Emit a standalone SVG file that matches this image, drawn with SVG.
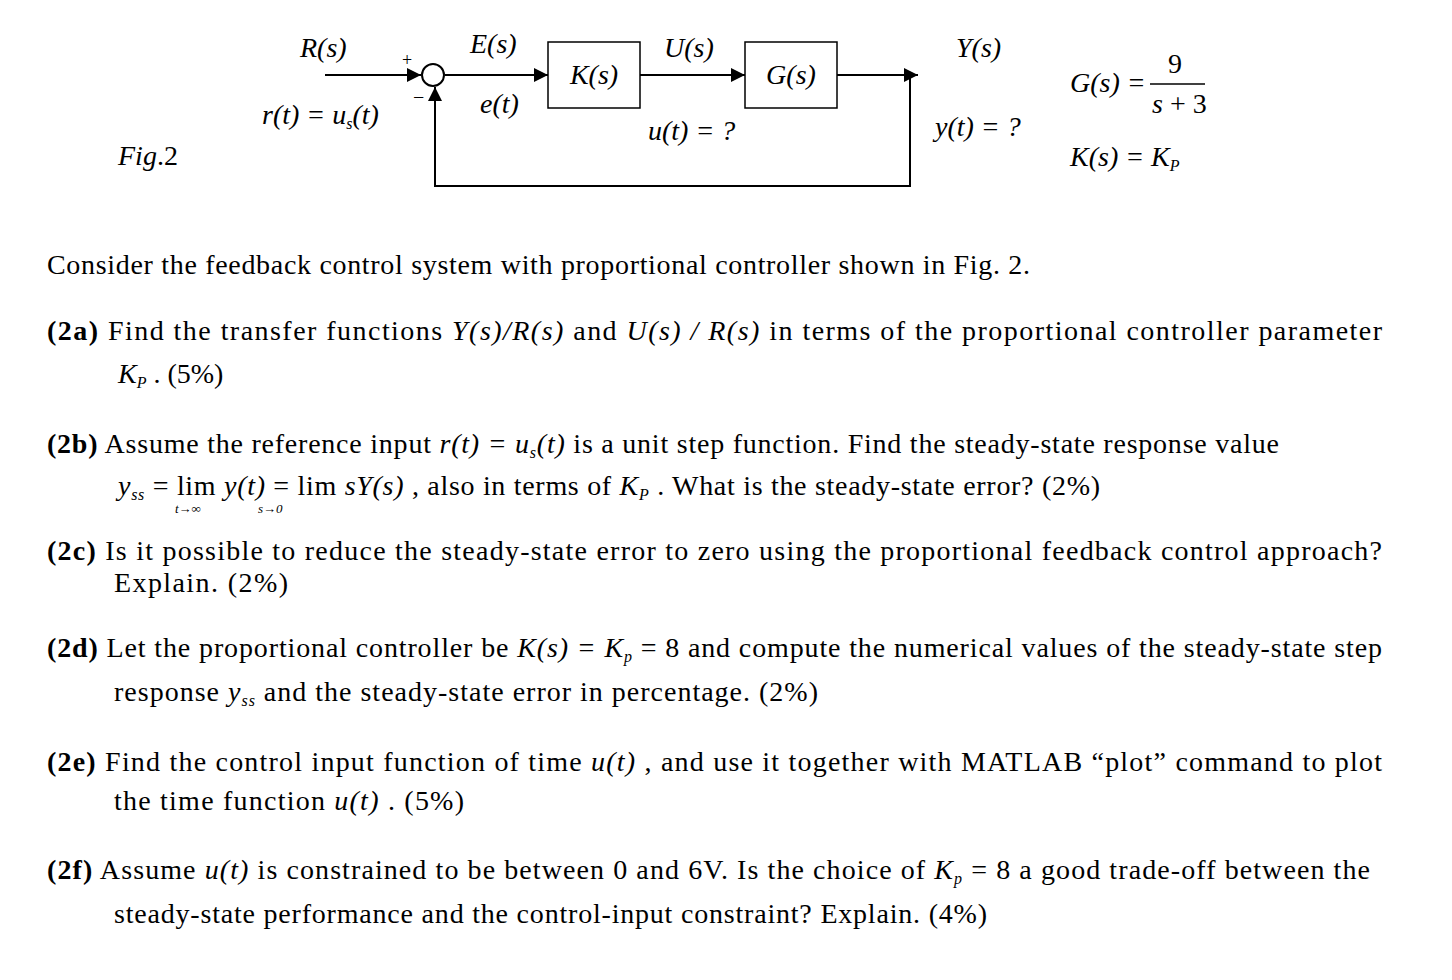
<svg xmlns="http://www.w3.org/2000/svg" width="1452" height="980" viewBox="0 0 1452 980">
<style>
text{font-family:"Liberation Serif","Times New Roman",serif;fill:#000}
.m{font-style:italic;font-size:28px}
.b{font-size:28px}
.bb{font-weight:bold}
.ln{stroke:#000;stroke-width:2;fill:none}
.box{stroke:#000;stroke-width:1.5;fill:#fff}
</style>
<defs>
<marker id="ah" viewBox="0 0 10 10" markerWidth="16" markerHeight="14" refX="10" refY="5" orient="auto" markerUnits="userSpaceOnUse"><path d="M0,0 L10,5 L0,10 z"/></marker></defs>
<rect width="1452" height="980" fill="#fff"/>
<g id="connectors">
<line class="ln" x1="325" y1="75" x2="421" y2="75" marker-end="url(#ah)"/>
<line class="ln" x1="445" y1="75" x2="548" y2="75" marker-end="url(#ah)"/>
<line class="ln" x1="640" y1="75" x2="745" y2="75" marker-end="url(#ah)"/>
<line class="ln" x1="837" y1="75" x2="918" y2="75" marker-end="url(#ah)"/>
<polyline class="ln" points="910,75 910,186 435,186 435,87" marker-end="url(#ah)"/>
</g>
<g id="sum"><circle cx="433" cy="75" r="11" class="ln"/><text x="402" y="66" font-size="18">+</text><text x="413" y="104" font-size="20">−</text></g>
<g id="K"><rect class="box" x="548" y="42" width="92" height="66"/><text class="m" x="594" y="84" text-anchor="middle">K(s)</text></g>
<g id="G"><rect class="box" x="745" y="42" width="92" height="66"/><text class="m" x="791" y="84" text-anchor="middle">G(s)</text></g>
<g id="labels">
<text class="m" x="300" y="57">R(s)</text>
<text class="m" x="262" y="124">r(t) = u<tspan font-size="16" dy="5">s</tspan><tspan dy="-5">(t)</tspan></text>
<text class="m" x="470" y="53">E(s)</text>
<text class="m" x="480" y="113">e(t)</text>
<text class="m" x="664" y="57">U(s)</text>
<text class="m" x="648" y="140">u(t) = ?</text>
<text class="m" x="956" y="57">Y(s)</text>
<text class="m" x="935" y="136">y(t) = ?</text>
<text class="m" x="118" y="165">Fig<tspan font-style="normal">.2</tspan></text>
<text class="m" x="1070" y="92">G(s) =</text>
<line x1="1150" y1="84" x2="1205" y2="84" stroke="#000" stroke-width="1.5"/>
<text class="b" x="1168" y="73">9</text>
<text class="m" x="1152" y="113">s <tspan font-style="normal">+ 3</tspan></text>
<text class="m" x="1070" y="166">K(s) = K<tspan font-size="16" dy="5">P</tspan></text>
</g>
<g id="body">
<text class="b" x="47" y="274" textLength="983" lengthAdjust="spacing">Consider the feedback control system with proportional controller shown in Fig. 2.</text>
<text class="b" x="47" y="340" textLength="1335" lengthAdjust="spacing"><tspan class="bb">(2a)</tspan>   Find the transfer functions <tspan font-style="italic">Y(s)/R(s)</tspan> and <tspan font-style="italic">U(s) / R(s)</tspan> in terms of the proportional controller parameter</text>
<text class="b" x="118" y="383"><tspan font-style="italic">K<tspan font-size="16" dy="5">P</tspan></tspan><tspan dy="-5"> . (5%)</tspan></text>
<text class="b" x="47" y="453" textLength="1232" lengthAdjust="spacing"><tspan class="bb">(2b)</tspan>  Assume the reference input <tspan font-style="italic">r(t) = u<tspan font-size="16" dy="5">s</tspan><tspan dy="-5">(t)</tspan></tspan> is a unit step function. Find the steady-state response value</text>
<text class="b" x="118" y="495" textLength="982" lengthAdjust="spacing"><tspan font-style="italic">y<tspan font-size="16" dy="5">ss</tspan></tspan><tspan dy="-5"> = lim <tspan font-style="italic">y(t)</tspan> = lim <tspan font-style="italic">sY(s)</tspan> , also in terms of <tspan font-style="italic">K</tspan></tspan><tspan font-size="16" font-style="italic" dy="5">P</tspan><tspan dy="-5"> .   What is the steady-state error?  (2%)</tspan></text>
<text x="175" y="513" font-size="13" font-style="italic">t→∞</text>
<text x="258" y="513" font-size="13" font-style="italic">s→0</text>
<text class="b" x="47" y="560" textLength="1335" lengthAdjust="spacing"><tspan class="bb">(2c)</tspan>  Is it possible to reduce the steady-state error to zero using the proportional feedback control approach?</text>
<text class="b" x="114" y="592" textLength="174" lengthAdjust="spacing">Explain.  (2%)</text>
<text class="b" x="47" y="657" textLength="1335" lengthAdjust="spacing"><tspan class="bb">(2d)</tspan>  Let the proportional controller be <tspan font-style="italic">K(s) = K<tspan font-size="16" dy="5">p</tspan></tspan><tspan dy="-5"> = 8 and compute the numerical values of the steady-state step</tspan></text>
<text class="b" x="114" y="701" textLength="704" lengthAdjust="spacing">response  <tspan font-style="italic">y<tspan font-size="16" dy="5">ss</tspan></tspan><tspan dy="-5">  and the steady-state error in percentage.  (2%)</tspan></text>
<text class="b" x="47" y="771" textLength="1335" lengthAdjust="spacing"><tspan class="bb">(2e)</tspan>  Find the control input function of time <tspan font-style="italic">u(t)</tspan> , and use it together with MATLAB “plot” command to plot</text>
<text class="b" x="114" y="810" textLength="350" lengthAdjust="spacing">the time function <tspan font-style="italic">u(t)</tspan> .   (5%)</text>
<text class="b" x="47" y="879" textLength="1323" lengthAdjust="spacing"><tspan class="bb">(2f)</tspan>  Assume <tspan font-style="italic">u(t)</tspan>  is constrained to be between 0 and 6V.   Is the choice of <tspan font-style="italic">K<tspan font-size="16" dy="5">p</tspan></tspan><tspan dy="-5"> = 8  a good trade-off between the</tspan></text>
<text class="b" x="114" y="923" textLength="873" lengthAdjust="spacing">steady-state performance and the control-input constraint? Explain.  (4%)</text>
</g>
</svg>
